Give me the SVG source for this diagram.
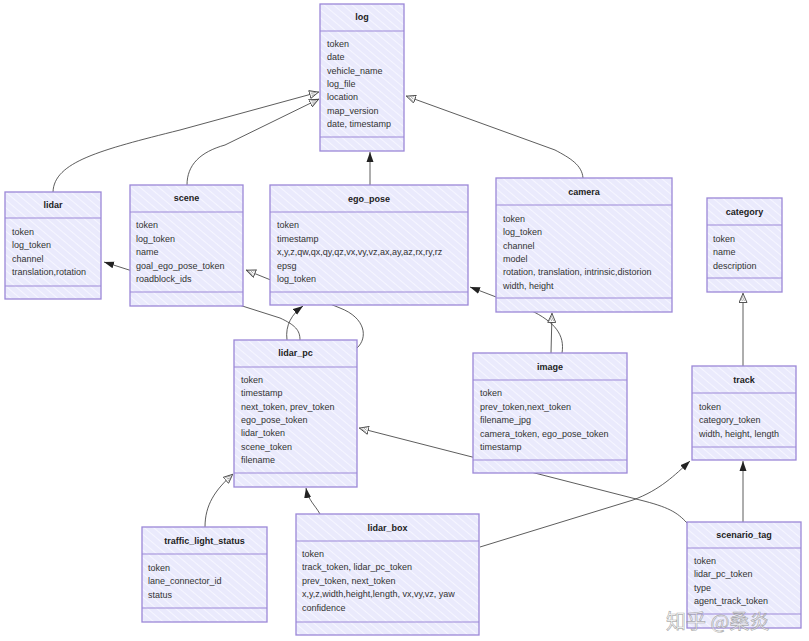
<svg xmlns="http://www.w3.org/2000/svg" width="809" height="641" viewBox="0 0 809 641">
<defs>
<pattern id="hatch" patternUnits="userSpaceOnUse" width="6" height="6" patternTransform="rotate(-50)">
<rect width="6" height="6" fill="#eaeafc"/>
<line x1="0" y1="0" x2="0" y2="6" stroke="#f6f6ff" stroke-width="2"/>
</pattern>
<marker id="hollow" viewBox="0 0 10 9" refX="10" refY="4.5" markerWidth="10" markerHeight="9" markerUnits="userSpaceOnUse" orient="auto">
<path d="M0.5,0.5 L9.5,4.5 L0.5,8.5 z" fill="#fff" stroke="#444" stroke-width="0.9"/>
<path d="M2,2 L7,4.5 M2,4 L6,6 M2,6 L4,7" stroke="#777" stroke-width="0.6"/>
</marker>
<marker id="filled" viewBox="0 0 10 8" refX="10" refY="4" markerWidth="10" markerHeight="8" markerUnits="userSpaceOnUse" orient="auto">
<path d="M0,0.5 L10,4 L0,7.5 z" fill="#222"/>
</marker>
</defs>
<style>
.box{fill:url(#hatch);stroke:#9b87d8;stroke-width:1.3}
.div{stroke:#9b87d8;stroke-width:1.2}
.title{font-family:"Liberation Sans",Arial,sans-serif;font-size:9px;font-weight:bold;fill:#222;text-anchor:middle}
.fld{font-family:"Liberation Sans",Arial,sans-serif;font-size:9px;fill:#333}
.edge{fill:none;stroke:#333;stroke-width:0.8}
.inh{marker-end:url(#hollow)}
.asc{marker-end:url(#filled)}
.wm{font-family:"Noto Sans CJK SC",sans-serif;font-size:20px;fill:#fff;fill-opacity:0.55;stroke:#8a8a8a;stroke-width:0.7;stroke-opacity:0.7}
</style>
<rect width="809" height="641" fill="#fff"/>
<g id="connectors">
<path class="edge inh" d="M53,192 C54,162 100,150 180,130 L319,92"/>
<path class="edge inh" d="M187,185 C187,165 200,152 225,145 L319,99"/>
<path class="edge asc" d="M370,185 L370,152"/>
<path class="edge inh" d="M583,178 C582,165 570,158 555,150 L406,96"/>
<path class="edge asc" d="M300,340 C300,330 295,325 280,318 L104,262"/>
<path class="edge inh" d="M357,348 C368,338 366,318 340,308 L246,270"/>
<path class="edge asc" d="M287,340 C285,325 292,314 303,306"/>
<path class="edge asc" d="M562,353 C565,335 555,322 530,310 L470,287"/>
<path class="edge inh" d="M551,353 L552,313"/>
<path class="edge inh" d="M743,366 L743,293"/>
<path class="edge asc" d="M480,547 L633,500 C660,490 675,475 690,461"/>
<path class="edge asc" d="M743,522 L743,461"/>
<path class="edge inh" d="M687,523 C677,512 668,507 640,500 L359,428"/>
<path class="edge inh" d="M205,527 C205,505 215,490 233,474"/>
<path class="edge asc" d="M320,514 C315,505 308,500 306,488"/>
</g>
<g id="log">
<rect class="box" x="320" y="4" width="84" height="147"/>
<line class="div" x1="320" y1="31" x2="404" y2="31"/>
<line class="div" x1="320" y1="137" x2="404" y2="137"/>
<text class="title" x="362" y="20">log</text>
<text class="fld" x="327" y="47">token</text>
<text class="fld" x="327" y="60.3">date</text>
<text class="fld" x="327" y="73.7">vehicle_name</text>
<text class="fld" x="327" y="87">log_file</text>
<text class="fld" x="327" y="100.3">location</text>
<text class="fld" x="327" y="113.7">map_version</text>
<text class="fld" x="327" y="127">date, timestamp</text>
</g>
<g id="lidar">
<rect class="box" x="5" y="192" width="96" height="107"/>
<line class="div" x1="5" y1="218" x2="101" y2="218"/>
<line class="div" x1="5" y1="286" x2="101" y2="286"/>
<text class="title" x="53" y="208">lidar</text>
<text class="fld" x="12" y="235">token</text>
<text class="fld" x="12" y="248.3">log_token</text>
<text class="fld" x="12" y="261.7">channel</text>
<text class="fld" x="12" y="275">translation,rotation</text>
</g>
<g id="scene">
<rect class="box" x="130" y="185" width="113" height="121"/>
<line class="div" x1="130" y1="212" x2="243" y2="212"/>
<line class="div" x1="130" y1="292" x2="243" y2="292"/>
<text class="title" x="186.5" y="201">scene</text>
<text class="fld" x="136" y="228">token</text>
<text class="fld" x="136" y="241.5">log_token</text>
<text class="fld" x="136" y="255">name</text>
<text class="fld" x="136" y="268.5">goal_ego_pose_token</text>
<text class="fld" x="136" y="282">roadblock_ids</text>
</g>
<g id="ego_pose">
<rect class="box" x="270" y="185" width="198" height="120"/>
<line class="div" x1="270" y1="212" x2="468" y2="212"/>
<line class="div" x1="270" y1="292" x2="468" y2="292"/>
<text class="title" x="369" y="202">ego_pose</text>
<text class="fld" x="277" y="228">token</text>
<text class="fld" x="277" y="241.5">timestamp</text>
<text class="fld" x="277" y="255">x,y,z,qw,qx,qy,qz,vx,vy,vz,ax,ay,az,rx,ry,rz</text>
<text class="fld" x="277" y="268.5">epsg</text>
<text class="fld" x="277" y="282">log_token</text>
</g>
<g id="camera">
<rect class="box" x="496" y="178" width="176" height="134"/>
<line class="div" x1="496" y1="205" x2="672" y2="205"/>
<line class="div" x1="496" y1="298" x2="672" y2="298"/>
<text class="title" x="584" y="195">camera</text>
<text class="fld" x="503" y="222">token</text>
<text class="fld" x="503" y="235.3">log_token</text>
<text class="fld" x="503" y="248.7">channel</text>
<text class="fld" x="503" y="262">model</text>
<text class="fld" x="503" y="275.3">rotation, translation, intrinsic,distorion</text>
<text class="fld" x="503" y="288.7">width, height</text>
</g>
<g id="category">
<rect class="box" x="707" y="198" width="75" height="94"/>
<line class="div" x1="707" y1="225" x2="782" y2="225"/>
<line class="div" x1="707" y1="278" x2="782" y2="278"/>
<text class="title" x="744.5" y="215">category</text>
<text class="fld" x="713" y="242">token</text>
<text class="fld" x="713" y="255.3">name</text>
<text class="fld" x="713" y="268.7">description</text>
</g>
<g id="lidar_pc">
<rect class="box" x="234" y="340" width="123" height="147"/>
<line class="div" x1="234" y1="367" x2="357" y2="367"/>
<line class="div" x1="234" y1="473" x2="357" y2="473"/>
<text class="title" x="295.5" y="356">lidar_pc</text>
<text class="fld" x="241" y="383">token</text>
<text class="fld" x="241" y="396.3">timestamp</text>
<text class="fld" x="241" y="409.7">next_token, prev_token</text>
<text class="fld" x="241" y="423">ego_pose_token</text>
<text class="fld" x="241" y="436.3">lidar_token</text>
<text class="fld" x="241" y="449.7">scene_token</text>
<text class="fld" x="241" y="463">filename</text>
</g>
<g id="image">
<rect class="box" x="473" y="353" width="154" height="120"/>
<line class="div" x1="473" y1="380" x2="627" y2="380"/>
<line class="div" x1="473" y1="460" x2="627" y2="460"/>
<text class="title" x="550" y="370">image</text>
<text class="fld" x="480" y="396">token</text>
<text class="fld" x="480" y="409.5">prev_token,next_token</text>
<text class="fld" x="480" y="423">filename_jpg</text>
<text class="fld" x="480" y="436.5">camera_token, ego_pose_token</text>
<text class="fld" x="480" y="450">timestamp</text>
</g>
<g id="track">
<rect class="box" x="692" y="366" width="104" height="94"/>
<line class="div" x1="692" y1="393" x2="796" y2="393"/>
<line class="div" x1="692" y1="447" x2="796" y2="447"/>
<text class="title" x="744" y="383">track</text>
<text class="fld" x="699" y="410">token</text>
<text class="fld" x="699" y="423.3">category_token</text>
<text class="fld" x="699" y="436.7">width, height, length</text>
</g>
<g id="traffic_light_status">
<rect class="box" x="142" y="527" width="125" height="95"/>
<line class="div" x1="142" y1="554" x2="267" y2="554"/>
<line class="div" x1="142" y1="608" x2="267" y2="608"/>
<text class="title" x="204.5" y="544">traffic_light_status</text>
<text class="fld" x="148" y="570.5">token</text>
<text class="fld" x="148" y="584">lane_connector_id</text>
<text class="fld" x="148" y="597.5">status</text>
</g>
<g id="lidar_box">
<rect class="box" x="296" y="514" width="183" height="121"/>
<line class="div" x1="296" y1="541" x2="479" y2="541"/>
<line class="div" x1="296" y1="622" x2="479" y2="622"/>
<text class="title" x="387.5" y="531">lidar_box</text>
<text class="fld" x="302" y="556.5">token</text>
<text class="fld" x="302" y="570">track_token, lidar_pc_token</text>
<text class="fld" x="302" y="583.5">prev_token, next_token</text>
<text class="fld" x="302" y="597">x,y,z,width,height,length, vx,vy,vz, yaw</text>
<text class="fld" x="302" y="610.5">confidence</text>
</g>
<g id="scenario_tag">
<rect class="box" x="687" y="522" width="114" height="106"/>
<line class="div" x1="687" y1="548" x2="801" y2="548"/>
<line class="div" x1="687" y1="614" x2="801" y2="614"/>
<text class="title" x="744" y="538">scenario_tag</text>
<text class="fld" x="694" y="564">token</text>
<text class="fld" x="694" y="577.3">lidar_pc_token</text>
<text class="fld" x="694" y="590.7">type</text>
<text class="fld" x="694" y="604">agent_track_token</text>
</g>
<text class="wm" x="666" y="629">知乎 @桑炎</text>
</svg>
